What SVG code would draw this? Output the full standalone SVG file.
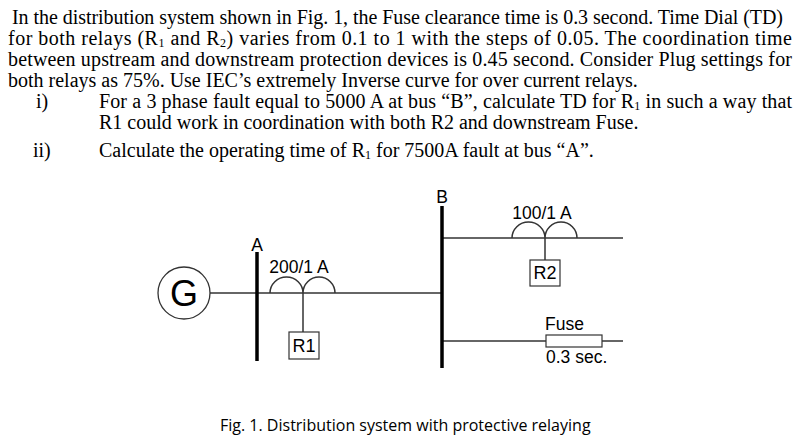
<svg xmlns="http://www.w3.org/2000/svg" width="799" height="439" viewBox="0 0 799 439">
<style>
.p{font-family:"Liberation Serif","Times New Roman",serif;font-size:20px;fill:#000}
.s{font-size:12px}
.l{font-family:"Liberation Sans",Arial,sans-serif;font-size:17.5px;fill:#000}
.c{font-family:"Open Sans","Noto Sans",sans-serif;font-size:16px;fill:#000}
.w{stroke:#333;stroke-width:1.5;fill:none}
.bus{stroke:#000;stroke-width:3.5}
.box{fill:#fff;stroke:#333;stroke-width:1.2}
</style>
<rect width="799" height="439" fill="#fff"/>
<g id="text">
<text class="p" x="12" y="24" textLength="771" lengthAdjust="spacing">In the distribution system shown in Fig. 1, the Fuse clearance time is 0.3 second. Time Dial (TD)</text>
<text class="p" x="8" y="45" textLength="784" lengthAdjust="spacing">for both relays (R<tspan class="s" dy="2">1</tspan><tspan dy="-2"> and R</tspan><tspan class="s" dy="2">2</tspan><tspan dy="-2">) varies from 0.1 to 1 with the steps of 0.05. The coordination time</tspan></text>
<text class="p" x="8" y="66" textLength="784" lengthAdjust="spacing">between upstream and downstream protection devices is 0.45 second. Consider Plug settings for</text>
<text class="p" x="8" y="87">both relays as 75%. Use IEC’s extremely Inverse curve for over current relays.</text>
<text class="p" x="36" y="108">i)</text>
<text class="p" x="99" y="108" textLength="693" lengthAdjust="spacing">For a 3 phase fault equal to 5000 A at bus “B”, calculate TD for R<tspan class="s" dy="2">1</tspan><tspan dy="-2"> in such a way that</tspan></text>
<text class="p" x="99" y="129">R1 could work in coordination with both R2 and downstream Fuse.</text>
<text class="p" x="33" y="157">ii)</text>
<text class="p" x="99" y="157">Calculate the operating time of R<tspan class="s" dy="2">1</tspan><tspan dy="-2"> for 7500A fault at bus “A”.</tspan></text>
</g>
<g id="connectors">
<line class="w" x1="210" y1="293" x2="442" y2="293"/>
<line class="w" x1="442" y1="238" x2="623" y2="238"/>
<line class="w" x1="442" y1="341" x2="623" y2="341"/>
<line class="w" x1="303" y1="293" x2="303" y2="332"/>
<line class="w" x1="545" y1="238" x2="545" y2="260"/>
</g>
<g id="G"><circle cx="184" cy="293" r="26" fill="#fff" stroke="#333" stroke-width="1.3"/><text class="l" x="184" y="306" text-anchor="middle" style="font-size:36px">G</text></g>
<g id="busA"><line class="bus" x1="257" y1="252" x2="257" y2="361"/><text class="l" x="257" y="251" text-anchor="middle">A</text></g>
<g id="busB"><line class="bus" x1="442" y1="206" x2="442" y2="368"/><text class="l" x="442" y="203" text-anchor="middle">B</text></g>
<g id="CT1"><path class="w" d="M270 293 A16.5 16 0 0 1 303 293 A16 16 0 0 1 335 293"/><text class="l" x="299" y="273" text-anchor="middle">200/1 A</text></g>
<g id="R1"><rect class="box" x="289" y="332" width="30" height="27"/><text class="l" x="304" y="352" text-anchor="middle" style="font-size:18px">R1</text></g>
<g id="CT2"><path class="w" d="M512 238 A16.5 16 0 0 1 545 238 A16 16 0 0 1 577 238"/><text class="l" x="542" y="219" text-anchor="middle">100/1 A</text></g>
<g id="R2"><rect class="box" x="530" y="260" width="30" height="26"/><text class="l" x="545" y="279" text-anchor="middle" style="font-size:18px">R2</text></g>
<g id="Fuse"><rect class="box" x="546" y="335" width="56" height="12"/><text class="l" x="545" y="330">Fuse</text><text class="l" x="546" y="363">0.3 sec.</text></g>
<text class="c" x="220" y="431">Fig. 1. Distribution system with protective relaying</text>
</svg>
